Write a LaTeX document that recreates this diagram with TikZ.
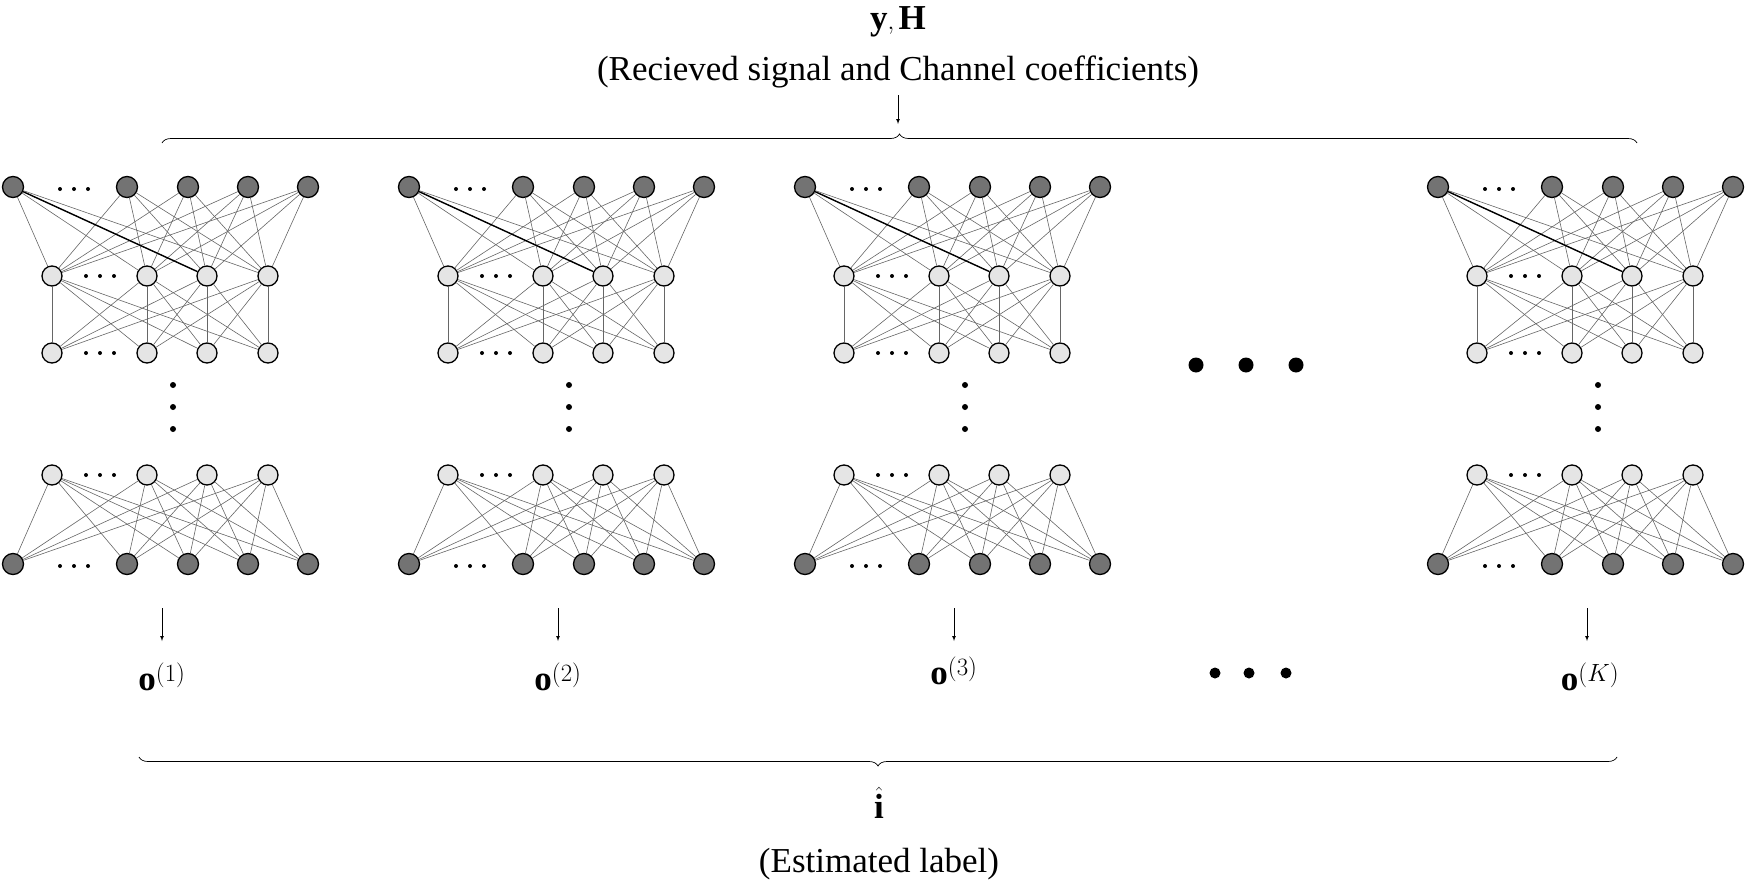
\documentclass[tikz,border=0pt]{standalone}
\usepackage{fontspec}
\setmainfont{Liberation Serif}
\usetikzlibrary{decorations.pathreplacing}
\begin{document}
\begin{tikzpicture}[x=1pt,y=-1pt,
 dk/.style={circle,draw=black,line width=1.3pt,fill=black!55,minimum size=21pt,inner sep=0pt},
 lt/.style={circle,draw=black,line width=1.3pt,fill=black!10,minimum size=20pt,inner sep=0pt},
 ed/.style={draw=black!60,line width=0.6pt},
 dot/.style={circle,fill=black,inner sep=0pt,minimum size=#1},
 arr/.style={-{latex},line width=0.7pt},
 br/.style={decorate,decoration={brace,amplitude=9pt},line width=0.7pt},
 txt/.style={font=\fontsize{35}{42}\selectfont,inner sep=0pt}]
\useasboundingbox (0,0) rectangle (1748,886);
\foreach \n/\ox in {1/0,2/396,3/792,4/1425}{
 \begin{scope}[xshift=\ox]
 \foreach \i/\x in {1/13,2/127,3/188,4/248,5/308}{
  \node[dk] (t\n\i) at (\x,187) {};
  \node[dk] (o\n\i) at (\x,564) {};}
 \foreach \i/\x in {1/52,2/147,3/207,4/268}{
  \node[lt] (a\n\i) at (\x,276) {};
  \node[lt] (b\n\i) at (\x,353) {};
  \node[lt] (c\n\i) at (\x,475) {};}
 \foreach \i in {1,...,5}{\foreach \j in {1,...,4}{
  \draw[ed] (t\n\i) -- (a\n\j); \draw[ed] (c\n\j) -- (o\n\i);}}
 \foreach \i in {1,...,4}{\foreach \j in {1,...,4}{\draw[ed] (a\n\i) -- (b\n\j);}}
 \draw[line width=1.4pt] (t\n1) -- (a\n3);
 \foreach \xx in {60,74,88}{\node[dot=4pt] (td\n\xx) at (\xx,189) {}; \node[dot=4pt] (od\n\xx) at (\xx,566) {};}
 \foreach \xx in {86,100,114}{\node[dot=4pt] (ad\n\xx) at (\xx,276) {}; \node[dot=4pt] (bd\n\xx) at (\xx,353) {}; \node[dot=4pt] (cd\n\xx) at (\xx,475) {};}
 \foreach \yy in {385,407,429}{\node[dot=6pt] (vd\n\yy) at (173,\yy) {};}
 \coordinate (as\n) at (162,608); \coordinate (ae\n) at (162,641);
 \draw[arr] (as\n) -- (ae\n);
 \end{scope}}
\node[txt] (l1) at (162,677) {$\mathbf{o}^{(1)}$};
\node[txt] (l2) at (558,677) {$\mathbf{o}^{(2)}$};
\node[txt] (l3) at (954,671) {$\mathbf{o}^{(3)}$};
\node[txt] (l4) at (1590,677) {$\mathbf{o}^{(K)}$};
\foreach \xx in {1196,1246,1296}{\node[dot=15pt] (bg\xx) at (\xx,365) {};}
\foreach \xx in {1215,1249,1286}{\node[dot=11pt] (bl\xx) at (\xx,673) {};}
\node[txt] (yh) at (898,22) {$\mathbf{y},\mathbf{H}$};
\node[txt] (rc) at (898,72) {(Recieved signal and Channel coefficients)};
\coordinate (ts) at (898,95); \coordinate (te) at (898,124);
\draw[arr] (ts) -- (te);
\coordinate (b1) at (162,143); \coordinate (b2) at (1637,143);
\draw[br] (b1) -- (b2);
\coordinate (c1) at (1617,757); \coordinate (c2) at (139,757);
\draw[br] (c1) -- (c2);
\node[txt] (ih) at (879,803) {$\hat{\mathbf{i}}$};
\node[txt] (el) at (879,864) {(Estimated label)};
\end{tikzpicture}
\end{document}
